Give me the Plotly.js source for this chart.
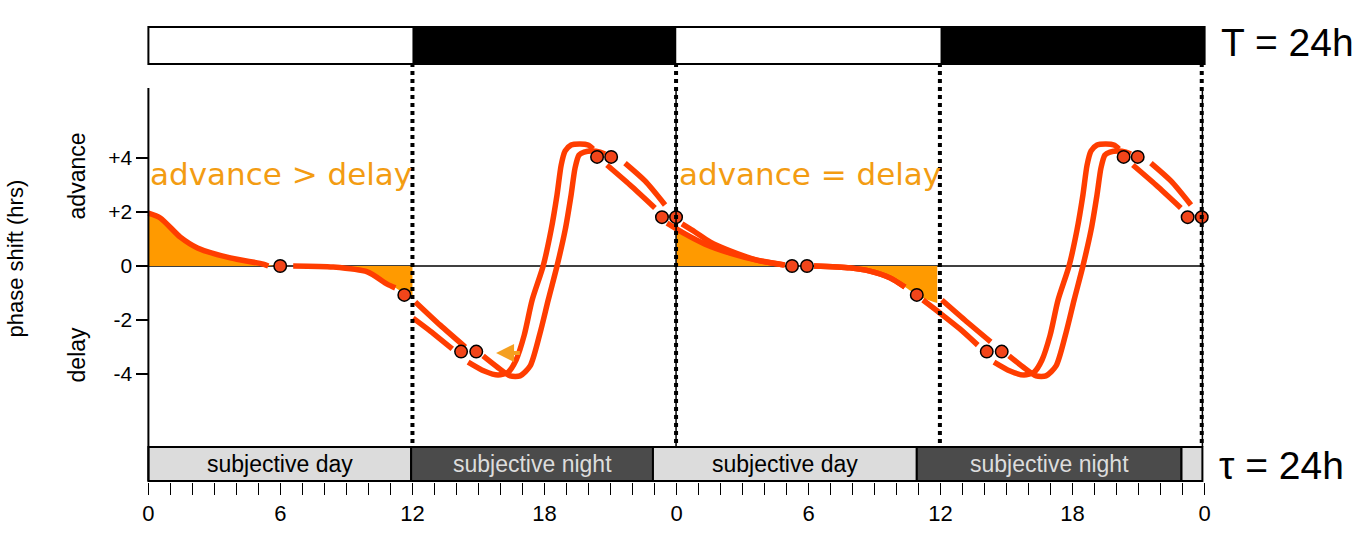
<!DOCTYPE html>
<html><head><meta charset="utf-8">
<script src="https://cdn.plot.ly/plotly-3.0.1.min.js"></script>
<style>html,body{margin:0;padding:0;background:#fff;} #chart{width:1363px;height:535px;}</style>
</head><body><div id="chart"></div>
<script>
// ---------- data (hours, phase shift in hrs) ----------
const curveA_h = [12.03,12.81,13.81,null,14.53,15.26,15.89,16.35,16.71,17.08,17.44,17.94,18.30,18.57,18.76,18.94,19.21,19.62,19.98,20.21,null,20.84,21.89,23.02,null,23.57,24.39,25.30,26.43,27.79,28.88,null,30.25,31.88,32.79,33.70,34.38,null,35.20,35.97,36.88,37.69,null,38.43,39.16,39.79,40.25,40.61,40.98,41.34,41.84,42.20,42.47,42.66,42.84,43.11,43.52,43.88,44.11,null,44.74,45.79,46.92];
const curveA_v = [-1.93,-2.41,-3.07,null,-3.56,-3.89,-4.04,-3.93,-3.48,-2.56,-1.26,0,1.33,2.63,3.74,4.26,4.48,4.52,4.48,4.33,null,3.74,3.00,2.15,null,1.59,1.19,0.81,0.48,0.19,0.04,null,0,-0.07,-0.19,-0.44,-0.78,null,-1.26,-1.74,-2.33,-2.93,null,-3.56,-3.89,-4.04,-3.93,-3.48,-2.56,-1.26,0,1.33,2.63,3.74,4.26,4.48,4.52,4.48,4.33,null,3.74,3.00,2.15];

const curveB_h = [0,0.54,1.45,2.23,3.72,5.22,5.45,null,6.58,8.40,9.95,10.85,11.22,null,12.13,13.26,14.40,null,15.21,15.85,16.44,16.89,17.35,17.80,18.17,18.57,18.94,19.21,19.39,19.57,19.80,20.16,20.53,20.75,null,21.66,22.57,23.48,null,24.25,24.84,25.52,26.43,27.66,28.93,null,30.25,31.88,32.79,33.70,34.38,null,36.06,37.10,38.28,null,39.11,39.75,40.34,40.79,41.25,41.70,42.07,42.47,42.84,43.11,43.29,43.47,43.70,44.06,44.43,44.65,null,45.56,46.47,47.38];
const curveB_v = [1.96,1.78,1.07,0.67,0.30,0.07,0.0,null,0,-0.04,-0.22,-0.67,-0.81,null,-1.33,-2.19,-3.00,null,-3.33,-3.74,-4.07,-4.07,-3.70,-2.48,-1.26,0,1.33,2.63,3.63,4.11,4.22,4.26,4.22,4.15,null,3.81,3.15,2.26,null,1.56,1.26,0.89,0.56,0.22,0.04,null,0,-0.07,-0.19,-0.44,-0.78,null,-1.26,-2.0,-2.81,null,-3.33,-3.74,-4.07,-4.07,-3.70,-2.48,-1.26,0,1.33,2.63,3.63,4.11,4.22,4.26,4.22,4.15,null,3.81,3.15,2.26];

const markers_h = [5.99,11.63,14.21,14.90,20.39,21.03,23.34,23.98,29.25,29.93,34.92,38.10,38.78,44.32,44.96,47.23,47.87];
const markers_v = [0,-1.07,-3.17,-3.17,4.04,4.04,1.81,1.81,0,0,-1.07,-3.17,-3.17,4.04,4.04,1.81,1.81];

const fill1_h = [0,0.54,1.45,2.23,3.72,5.22,5.7,6.58,8.40,9.95,10.85,11.31,11.63,12.0];
const fill1_v = [1.96,1.78,1.07,0.67,0.30,0.07,0,0,-0.04,-0.22,-0.67,-0.85,-1.02,-1.1];
const fill2_h = [24.0,24.39,25.30,26.43,27.79,28.88,29.6,30.25,31.88,32.79,33.70,34.38,34.92,35.4,35.85];
const fill2_v = [1.52,1.19,0.81,0.48,0.19,0.04,0,0,-0.07,-0.19,-0.44,-0.78,-1.07,-1.25,-1.37];

const lightDark_edges = [0,12,24,36,48];
const lightDark_state = ['light','dark','light','dark'];
const subj_edges = [0,11.94,22.93,34.92,46.95,47.9];
const subj_state = ['day','night','day','night','day'];
const subj_labels = ['subjective day','subjective night','subjective day','subjective night',''];
const transitions_h = [12.0,23.98,35.97,47.87];
const cycleEnds_h = [23.98,47.9];

const yTickVals = [-4,-2,0,2,4];
const yTickText = ['-4','-2','0','+2','+4'];
const hourTickVals = Array.from({length:49},(_,i)=>i);
const hourLabelEvery = 6;
const hourLabels = ['0','6','12','18','0','6','12','18','0'];

const shiftArrow = {tip_h:15.8, tail_h:16.95, v:-3.22};

// ---------- geometry / style ----------
const W=1363, H=535;
const PXH=22.02, PXV=27, X0=148, Y0=266;
const xRange=[-0.2,48.2];
const yRange=[(Y0-482)/PXV,(Y0-24)/PXV];
const mL = X0 + xRange[0]*PXH;
const plotW = (xRange[1]-xRange[0])*PXH;
const mR = W - mL - plotW;
const mT = Y0 - yRange[1]*PXV;
const plotH = (yRange[1]-yRange[0])*PXV;
const mB = H - mT - plotH;
const px2paperX = px => (px - mL)/plotW;
const px2paperY = py => 1 - (py - mT)/plotH;

const vTopBar=[(Y0-64)/PXV,(Y0-27)/PXV];
const vSubBar=[(Y0-481)/PXV,(Y0-447)/PXV];
const vAxisTop=(Y0-88)/PXV;
const vDotBottom=(Y0-443)/PXV;

const RED='#FF3D00', FILL='#FF9A00', ORANGE_TXT='#F39C12';
const SANS='"Liberation Sans", Arial, sans-serif';
const curveLine={color:RED,width:5.5,shape:'spline',smoothing:0.7};

const traces=[
 {x:fill1_h,y:fill1_v,type:'scatter',mode:'lines',fill:'tozeroy',fillcolor:FILL,line:{width:0,color:FILL,shape:'spline',smoothing:0.7},hoverinfo:'skip'},
 {x:fill2_h,y:fill2_v,type:'scatter',mode:'lines',fill:'tozeroy',fillcolor:FILL,line:{width:0,color:FILL,shape:'spline',smoothing:0.7},hoverinfo:'skip'},
 {x:curveB_h,y:curveB_v,type:'scatter',mode:'lines',line:curveLine,connectgaps:false,hoverinfo:'skip'},
 {x:curveA_h,y:curveA_v,type:'scatter',mode:'lines',line:curveLine,connectgaps:false,hoverinfo:'skip'},
 {x:markers_h,y:markers_v,type:'scatter',mode:'markers',marker:{size:12.5,color:'#F2451A',line:{color:'#000',width:1.5}},hoverinfo:'skip'}
];

const shapes=[];
shapes.push({type:'line',xref:'x',yref:'y',x0:0,x1:48,y0:0,y1:0,line:{color:'#000',width:1.5},layer:'below'});
for(let i=0;i<lightDark_state.length;i++){
  shapes.push({type:'rect',xref:'x',yref:'y',x0:lightDark_edges[i],x1:lightDark_edges[i+1],y0:vTopBar[0],y1:vTopBar[1],
    fillcolor: lightDark_state[i]==='dark'?'#000':'#fff', line:{width:0}});
}
shapes.push({type:'rect',xref:'x',yref:'y',x0:lightDark_edges[0],x1:lightDark_edges[lightDark_edges.length-1],y0:vTopBar[0],y1:vTopBar[1],
  line:{color:'#000',width:2},fillcolor:'rgba(0,0,0,0)'});
for(let i=0;i<subj_state.length;i++){
  shapes.push({type:'rect',xref:'x',yref:'y',x0:subj_edges[i],x1:subj_edges[i+1],y0:vSubBar[0],y1:vSubBar[1],
    fillcolor: subj_state[i]==='night'?'#4B4B4B':'#DCDCDC', line:{color:'#000',width:2}});
}
shapes.push({type:'line',xref:'x',yref:'y',x0:0,x1:0,y0:vSubBar[0],y1:vAxisTop,line:{color:'#000',width:2}});
cycleEnds_h.forEach(h=>shapes.push({type:'line',xref:'x',yref:'y',x0:h,x1:h,y0:vSubBar[1],y1:vAxisTop,line:{color:'#000',width:1.5}}));
transitions_h.forEach(h=>shapes.push({type:'line',xref:'x',yref:'y',x0:h,x1:h,y0:vDotBottom,y1:vTopBar[0],line:{color:'#000',width:4,dash:'dot'}}));

const annotations=[];
for(let i=0;i<subj_labels.length;i++){
  if(!subj_labels[i]) continue;
  annotations.push({xref:'x',yref:'y',x:(subj_edges[i]+subj_edges[i+1])/2,y:(vSubBar[0]+vSubBar[1])/2,text:subj_labels[i],showarrow:false,
    xanchor:'center',yanchor:'middle',font:{family:SANS,size:23,color: subj_state[i]==='night'?'#DDDDDD':'#000'}});
}
annotations.push({xref:'x',yref:'y',x:0,y:3.40,text:'advance &gt; delay',showarrow:false,xanchor:'left',yanchor:'middle',
  font:{family:'"DejaVu Sans", sans-serif',size:31,color:ORANGE_TXT}});
annotations.push({xref:'x',yref:'y',x:24.03,y:3.40,text:'advance = delay',showarrow:false,xanchor:'left',yanchor:'middle',
  font:{family:'"DejaVu Sans", sans-serif',size:31,color:ORANGE_TXT}});
annotations.push({xref:'paper',yref:'paper',x:px2paperX(1219),y:px2paperY(42),text:'T = 24h',showarrow:false,xanchor:'left',yanchor:'middle',
  font:{family:SANS,size:39,color:'#000'}});
annotations.push({xref:'paper',yref:'paper',x:px2paperX(1217),y:px2paperY(465),text:'\u03C4 = 24h',showarrow:false,xanchor:'left',yanchor:'middle',
  font:{family:SANS,size:39,color:'#000'}});
annotations.push({xref:'paper',yref:'paper',x:px2paperX(77),y:px2paperY(176),text:'advance',showarrow:false,textangle:-90,xanchor:'center',yanchor:'middle',
  font:{family:SANS,size:23,color:'#000'}});
annotations.push({xref:'paper',yref:'paper',x:px2paperX(77),y:px2paperY(355),text:'delay',showarrow:false,textangle:-90,xanchor:'center',yanchor:'middle',
  font:{family:SANS,size:23,color:'#000'}});
annotations.push({xref:'paper',yref:'paper',x:px2paperX(15),y:px2paperY(258),text:'phase shift (hrs)',showarrow:false,textangle:-90,xanchor:'center',yanchor:'middle',
  font:{family:SANS,size:22,color:'#000'}});
annotations.push({xref:'x',yref:'y',axref:'x',ayref:'y',x:shiftArrow.tip_h,y:shiftArrow.v,ax:shiftArrow.tail_h,ay:shiftArrow.v,text:'',
  showarrow:true,arrowhead:2,arrowsize:0.9,arrowwidth:4,arrowcolor:'#F5A020'});

const layout={
  width:W,height:H,autosize:false,
  margin:{l:mL,r:mR,t:mT,b:mB,pad:0,autoexpand:false},
  paper_bgcolor:'#fff',plot_bgcolor:'rgba(0,0,0,0)',
  showlegend:false,
  xaxis:{range:xRange,showgrid:false,zeroline:false,showline:false,
    tickmode:'array',tickvals:hourTickVals,
    ticktext:hourTickVals.map(h=> h%hourLabelEvery===0 ? hourLabels[h/hourLabelEvery] : ''),
    ticks:'outside',ticklen:12,tickwidth:1.5,tickcolor:'#000',
    tickfont:{family:SANS,size:22,color:'#000'}},
  yaxis:{range:yRange,showgrid:false,zeroline:false,showline:false,anchor:'free',position:(X0-mL)/plotW,
    tickmode:'array',tickvals:yTickVals,ticktext:yTickText,
    ticks:'outside',ticklen:12,tickwidth:1.5,tickcolor:'#000',
    tickfont:{family:SANS,size:21,color:'#000'}},
  shapes:shapes,annotations:annotations
};
Plotly.newPlot('chart',traces,layout,{staticPlot:true,displayModeBar:false});
</script></body></html>
